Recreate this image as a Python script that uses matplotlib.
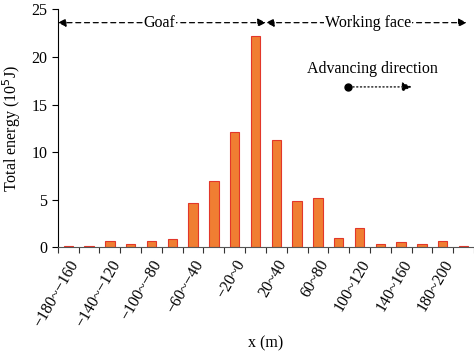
import matplotlib
matplotlib.use("Agg")
import matplotlib.pyplot as plt
import numpy as np

categories = ["-180~-160", "-160~-140", "-140~-120", "-120~-100", "-100~-80", "-80~-60",
              "-60~-40", "-40~-20", "-20~0", "0~20", "20~40", "40~60", "60~80", "80~100",
              "100~120", "120~140", "140~160", "160~180", "180~200", "200~220"]
energy = [0.15, 0.15, 0.7, 0.4, 0.7, 0.9, 4.7, 7.0, 12.1, 22.2, 11.3, 4.9, 5.2, 1.0,
          2.0, 0.4, 0.6, 0.4, 0.7, 0.1]
yticks = [0, 5, 10, 15, 20, 25]

plt.rcParams['font.family'] = ['Liberation Serif', 'DejaVu Serif']
plt.rcParams['font.size'] = 11.5

fig = plt.figure(figsize=(4.74, 3.51), dpi=100)
ax = fig.add_axes([0.122, 0.2954, 0.878, 0.678])

x = np.arange(len(categories))
ax.bar(x, energy, width=0.45, color='#F07E32', edgecolor='#E2372A', linewidth=0.8, zorder=2)

ax.set_xlim(-0.5, len(categories) - 0.5)
ax.set_ylim(0, 25)
ax.set_yticks(yticks)
ax.set_xticks(np.arange(len(categories) + 1) - 0.5)
ax.set_xticklabels([])
ax.set_xticks(x[::2], minor=True)
ax.set_xticklabels([c.replace('-', '\u2212') for c in categories[::2]], minor=True,
                   rotation=60, ha='right', rotation_mode='anchor')
ax.tick_params(axis='x', which='minor', length=0, pad=7)
ax.tick_params(axis='x', which='major', length=4, direction='out', color='#333333')
ax.tick_params(axis='y', length=4, direction='out')

for s in ['top', 'right']:
    ax.spines[s].set_visible(False)
ax.spines['bottom'].set_color('#555555')

ax.set_ylabel('Total energy (10$^5$J)', labelpad=6)
ax.set_xlabel('x (m)', labelpad=4)

# Goaf / working face arrows
ya = 23.6
ax.annotate('', xy=(-0.5, ya), xytext=(9.5, ya),
            arrowprops=dict(arrowstyle='<|-|>', linestyle=(0, (4, 3)), color='black',
                            lw=0.9, mutation_scale=12, shrinkA=0, shrinkB=0))
ax.annotate('', xy=(9.5, ya), xytext=(19.15, ya),
            arrowprops=dict(arrowstyle='<|-|>', linestyle=(0, (4, 3)), color='black',
                            lw=0.9, mutation_scale=12, shrinkA=0, shrinkB=0))
ax.text(4.4, ya, 'Goaf', ha='center', va='center',
        bbox=dict(facecolor='white', edgecolor='none', pad=0.5))
ax.text(14.4, ya, 'Working face', ha='center', va='center',
        bbox=dict(facecolor='white', edgecolor='none', pad=0.5))

# Advancing direction
ax.text(14.6, 18.7, 'Advancing direction', ha='center', va='center')
ax.plot([13.45], [16.85], 'o', color='black', markersize=5)
ax.annotate('', xy=(16.5, 16.85), xytext=(13.5, 16.85),
            arrowprops=dict(arrowstyle='-|>', linestyle=(0, (1, 2)), color='black',
                            lw=0.9, mutation_scale=14, shrinkA=0, shrinkB=0))

fig.savefig('out.png', dpi=100)
